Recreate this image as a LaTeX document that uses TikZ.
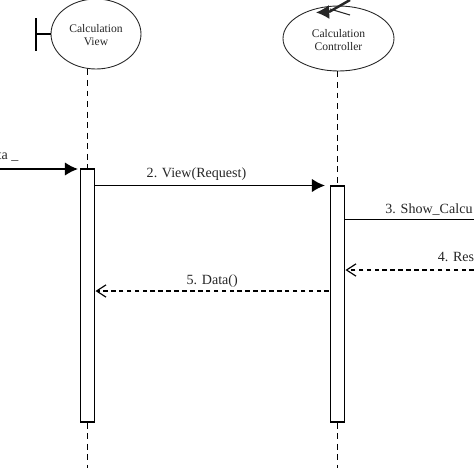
\documentclass[tikz,border=0pt]{standalone}
\usepackage{fontspec}
\setmainfont{Liberation Serif}
\usetikzlibrary{arrows.meta}
\usetikzlibrary{shapes.geometric}
\definecolor{inkgray}{gray}{0.15}
\tikzset{
	lifebar/.style={draw=black, fill=white, line width=0.85pt, minimum width=0.29cm, inner sep=0pt},
	unitbub/.style={draw=inkgray, ellipse, line width=0.5pt, inner sep=0pt},
	unittxt/.style={inner sep=0pt, align=center, font=\fontsize{6.6pt}{7.4pt}\selectfont, text=inkgray},
	lifeline/.style={line width=0.55pt, dash pattern=on 3.4pt off 2.6pt},
	callmsg/.style={-{Latex[length=7.4pt,width=7.6pt]}, line width=1pt},
	backmsg/.style={-{Straight Barb[length=5.4pt,width=7pt]}, line width=0.65pt, dash pattern=on 2.6pt off 1.9pt},
	msgtxt/.style={font=\fontsize{8pt}{9pt}\selectfont, text=inkgray, inner sep=0pt},
}
\begin{document}
\begin{tikzpicture}[x=0.02cm, y=-0.02cm]
			\useasboundingbox (0,0) rectangle (474,474);
			% the two units at the top
			\draw (96,34) node[unitbub, minimum width=1.8cm, minimum height=1.4cm] (View) {};
			\draw (96,35.5) node[unittxt] (ViewTxt) {Calculation\\View};
			\draw (338.5,38.5) node[unitbub, minimum width=2.22cm, minimum height=1.3cm] (Ctrl) {};
			\draw (338.5,40) node[unittxt] (CtrlTxt) {Calculation\\Controller};
			% boundary mark
			\draw (36,34) coordinate (Bnd);
			\draw[line width=0.9pt] (36,18) coordinate (BndT) -- (36,51) coordinate (BndB);
			\draw[line width=0.6pt] (Bnd) -- (View.west);
			% control mark
			\draw (316,12.5) coordinate (Tip);
			\draw (329,12) coordinate (Neck);
			\draw (350,0) coordinate (TailA);
			\draw (330,9) coordinate (BarbA);
			\draw (350,15) coordinate (BarbB);
			\draw[line width=1.4pt, inkgray] (Neck) -- (TailA);
			\draw[-{Latex[length=7.5pt,width=8pt]}, line width=1pt, inkgray] (Neck) -- (Tip);
			\draw[line width=0.6pt, inkgray] (BarbA) -- (BarbB);
			% activation bars
			\draw (87.5,295.5) node[lifebar, minimum height=5.06cm] (BarV) {};
			\draw (337.5,304) node[lifebar, minimum height=4.72cm] (BarC) {};
			% lifelines
			\draw (87.5,468) coordinate (EndV);
			\draw (337.5,468) coordinate (EndC);
			\draw[lifeline] (View.south -| BarV.north) -- (BarV.north);
			\draw[lifeline, line width=0.8pt] (Ctrl.south -| BarC.north) -- (BarC.north);
			\draw[lifeline] (BarV.south) -- (EndV);
			\draw[lifeline, line width=0.8pt] (BarC.south) -- (EndC);
			% messages
			\draw (0,169) coordinate (InA);
			\draw (78,169) coordinate (InB);
			\draw[callmsg] (InA) to (InB);
			\draw (8,156) node[msgtxt] (LabA) {ta \_};
			\draw (325,185.5) coordinate (ReqB);
			\draw[callmsg] (BarV.east |- ReqB) to node[msgtxt, above=2.5pt, pos=0.44] (LabB) {2. View(Request)} (ReqB);
			\draw (474,219.5) coordinate (OutB);
			\draw[line width=0.9pt] (BarC.east |- OutB) to (OutB);
			\draw (429,209.5) node[msgtxt] (LabC) {3. Show\_Calcu};
			\draw (474,270) coordinate (BackA);
			\draw[backmsg] (BackA) to (BarC.east |- BackA);
			\draw (456,257) node[msgtxt] (LabD) {4. Res};
			\draw (329,291) coordinate (BackB);
			\draw[backmsg] (BackB) to node[msgtxt, above=1.8pt, pos=0.5] (LabE) {5. Data()} (BarV.east |- BackB);
		\end{tikzpicture}
\end{document}
